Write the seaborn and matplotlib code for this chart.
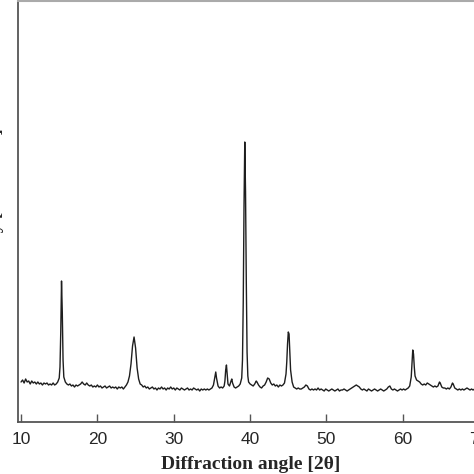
import pandas as pd
import matplotlib
matplotlib.use('Agg')
import matplotlib.pyplot as plt
import seaborn as sns

# XRD trace (2theta in degrees, intensity in arb. units)
two_theta = [
    10.0, 10.2, 10.4, 10.6, 10.8, 11.0, 11.2, 11.4, 11.6, 11.8, 12.0, 12.2, 12.4, 12.6, 12.8,
    13.0, 13.2, 13.4, 13.6, 13.8, 14.0, 14.2, 14.4, 14.6, 14.8,
    15.0, 15.1, 15.2, 15.3, 15.4, 15.5, 15.6, 15.8, 16.0,
    16.2, 16.4, 16.6, 16.8, 17.0, 17.2, 17.4, 17.6, 17.8, 18.0, 18.2, 18.4, 18.6, 18.8,
    19.0, 19.2, 19.4, 19.6, 19.8, 20.0, 20.2, 20.4, 20.6, 20.8, 21.0, 21.2, 21.4, 21.6, 21.8,
    22.0, 22.2, 22.4, 22.6, 22.8, 23.0, 23.2, 23.4, 23.6, 23.8, 24.0,
    24.2, 24.4, 24.6, 24.8, 25.0, 25.2, 25.4, 25.6, 25.8, 26.0,
    26.2, 26.4, 26.6, 26.8, 27.0, 27.2, 27.4, 27.6, 27.8, 28.0, 28.2, 28.4, 28.6, 28.8,
    29.0, 29.2, 29.4, 29.6, 29.8, 30.0, 30.2, 30.4, 30.6, 30.8, 31.0, 31.2, 31.4, 31.6, 31.8,
    32.0, 32.2, 32.4, 32.6, 32.8, 33.0, 33.2, 33.4, 33.6, 33.8, 34.0, 34.2, 34.4, 34.6, 34.8, 35.0,
    35.2, 35.4, 35.5, 35.6, 35.8, 36.0, 36.2, 36.4, 36.6, 36.7, 36.8, 36.9, 37.0, 37.1, 37.3,
    37.5, 37.6, 37.7, 37.9, 38.1, 38.3, 38.5, 38.7, 38.9, 39.0, 39.1, 39.2, 39.3, 39.4, 39.5,
    39.6, 39.7, 39.8, 40.0, 40.2, 40.4, 40.6, 40.8, 40.9, 41.1, 41.3, 41.5, 41.7, 41.9, 42.1,
    42.3, 42.5, 42.7, 42.9, 43.1, 43.3, 43.5, 43.7, 43.9, 44.1, 44.3, 44.5, 44.7, 44.8, 44.9,
    45.0, 45.1, 45.2, 45.3, 45.5, 45.7, 45.9, 46.1, 46.3, 46.5, 46.7, 46.9, 47.1, 47.3, 47.5,
    47.7, 47.9, 48.1, 48.3, 48.5, 48.7, 48.9, 49.1, 49.3, 49.5, 49.7, 49.9, 50.1, 50.3, 50.5,
    50.7, 50.9, 51.1, 51.3, 51.5, 51.7, 51.9, 52.1, 52.3, 52.5, 52.7, 52.9, 53.1, 53.3, 53.5,
    53.7, 53.9, 54.1, 54.3, 54.5, 54.7, 54.9, 55.1, 55.3, 55.5, 55.7, 55.9, 56.1, 56.3, 56.5,
    56.7, 56.9, 57.1, 57.3, 57.5, 57.7, 57.9, 58.1, 58.3, 58.5, 58.7, 58.9, 59.1, 59.3, 59.5,
    59.7, 59.9, 60.1, 60.3, 60.5, 60.7, 60.9, 61.1, 61.2, 61.3, 61.4, 61.5, 61.6, 61.8, 62.0,
    62.2, 62.4, 62.6, 62.8, 63.0, 63.2, 63.4, 63.6, 63.8, 64.0, 64.2, 64.4, 64.6, 64.8, 64.9,
    65.1, 65.3, 65.5, 65.7, 65.9, 66.1, 66.3, 66.5, 66.6, 66.8, 67.0, 67.2, 67.4, 67.6, 67.8,
    68.0, 68.2, 68.4, 68.6, 68.8, 69.0, 69.2, 69.4, 69.6, 69.8, 70.0, 70.2, 70.4, 70.6,
]
intensity = [
    40, 42, 39, 43, 40, 41, 38, 41, 39, 40, 38, 40, 38, 39, 37,
    39, 38, 39, 37, 38, 37, 39, 37, 38, 40,
    44, 55, 90, 141, 110, 62, 45, 40, 38,
    37, 38, 36, 37, 35, 37, 36, 37, 38, 40, 38, 37, 39, 37,
    36, 37, 35, 36, 35, 37, 35, 36, 34, 35, 36, 34, 35, 36, 34,
    35, 34, 35, 33, 35, 34, 35, 33, 35, 37, 40,
    46, 58, 76, 85, 74, 54, 43, 38, 37, 35,
    36, 34, 35, 33, 34, 35, 33, 34, 32, 34, 33, 35, 33, 34,
    32, 34, 33, 35, 33, 34, 32, 34, 33, 32, 34, 33, 32, 33, 34,
    32, 33, 32, 34, 33, 32, 33, 31, 33, 32, 33, 32, 33, 32, 33, 34,
    37, 46, 50, 44, 36, 34, 35, 34, 36, 41, 52, 57, 48, 38, 36,
    41, 43, 39, 35, 34, 35, 36, 38, 44, 62, 120, 215, 280, 230, 140,
    70, 46, 40, 38, 37, 36, 38, 41, 40, 37, 35, 34, 36, 37, 40,
    44, 43, 39, 37, 38, 36, 37, 35, 37, 36, 37, 39, 48, 60, 78,
    90, 88, 70, 52, 40, 35, 34, 33, 34, 33, 33, 34, 35, 37, 36,
    33, 32, 33, 32, 33, 32, 34, 32, 33, 32, 31, 33, 32, 31, 32,
    33, 32, 31, 32, 33, 31, 32, 32, 33, 32, 31, 32, 33, 34, 35,
    36, 37, 36, 35, 33, 32, 33, 32, 31, 33, 32, 31, 32, 33, 32,
    31, 32, 33, 32, 31, 32, 33, 35, 36, 33, 32, 33, 32, 31, 32,
    33, 32, 33, 32, 33, 34, 36, 45, 58, 72, 68, 55, 46, 42, 41,
    40, 38, 37, 38, 37, 39, 38, 37, 36, 35, 36, 35, 36, 40, 39,
    35, 34, 34, 33, 34, 33, 35, 39, 38, 34, 33, 32, 33, 32, 33,
    32, 33, 34, 33, 32, 33, 32, 33, 32, 33, 32, 33, 32, 33,
]
x_ticks = [10, 20, 30, 40, 50, 60, 70]

df = pd.DataFrame({'two_theta': two_theta, 'intensity': intensity})

sns.set_style('ticks')
plt.rcParams['font.family'] = ['Liberation Sans', 'DejaVu Sans']

fig = plt.figure(figsize=(4.74, 4.74), dpi=100)
ax = fig.add_axes([18 / 474, 52 / 474, 465 / 474, 421 / 474])

sns.lineplot(data=df, x='two_theta', y='intensity', ax=ax, color='#1e1e1e',
             linewidth=1.0, sort=False, estimator=None)

ax.set_xlim(9.6, 70.5)
ax.set_ylim(0, 421)
ax.set_xticks(x_ticks)
ax.set_yticks([])
ax.tick_params(axis='x', direction='in', length=6, width=1, color='#555555',
               labelsize=12.5, pad=7)

for side in ['left', 'right', 'bottom']:
    ax.spines[side].set_color('#555555')
    ax.spines[side].set_linewidth(1.3)
ax.spines['top'].set_color('#aaaaaa')
ax.spines['top'].set_linewidth(1.5)

ax.set_xlabel('Diffraction angle [2θ]', family=['Liberation Serif', 'DejaVu Serif'],
              fontweight='bold', fontsize=14, labelpad=7)
ax.set_ylabel('Intensity [arb. units]', family=['Liberation Serif', 'DejaVu Serif'],
              fontweight='bold', fontsize=13.5)
ax.yaxis.set_label_coords(-0.030, 0.5)

fig.savefig('out.png', dpi=100)
